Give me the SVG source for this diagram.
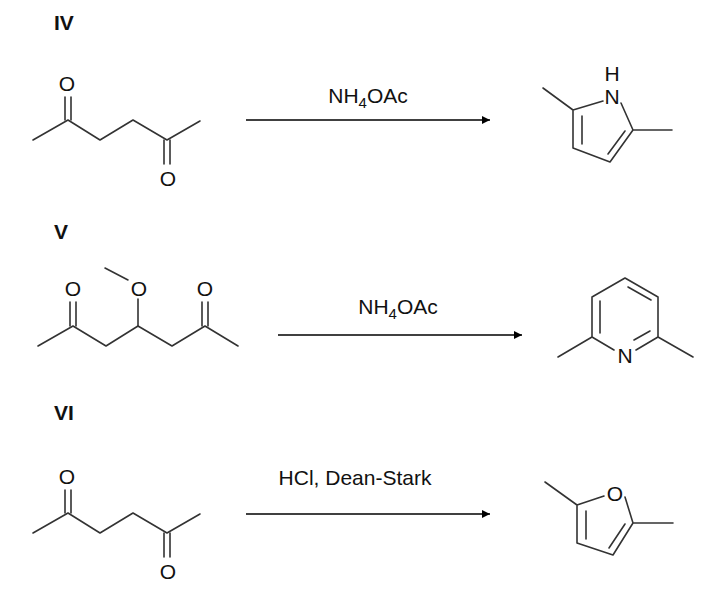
<svg xmlns="http://www.w3.org/2000/svg" width="706" height="600" viewBox="0 0 706 600">
<defs>
<style>
.b{fill:none;stroke:#333;stroke-width:1.6;stroke-linecap:round;stroke-linejoin:round}
.a{fill:none;stroke:#000;stroke-width:1.5}
.t{font-family:"Liberation Sans",Arial,sans-serif;font-size:21px;fill:#111;text-anchor:middle}
.l{font-family:"Liberation Sans",Arial,sans-serif;font-size:21px;font-weight:bold;fill:#111}
</style>
<marker id="ah" viewBox="0 0 10 10" refX="10" refY="5" markerWidth="14" markerHeight="8" markerUnits="userSpaceOnUse" orient="auto"><path d="M0,0 L10,5 L0,10 z" fill="#000"/></marker>
<g id="hexdione">
<path class="b" d="M33,140 L68,120 L100,140 L133,120 L167,140 L200,121"/>
<path class="b" d="M65,120 V97 M71,120 V97"/>
<path class="b" d="M164,140 V164 M170,140 V164"/>
<text class="t" x="67" y="91">O</text>
<text class="t" x="168" y="186">O</text>
</g>
</defs>
<rect width="706" height="600" fill="#fff"/>
<text class="l" x="54" y="30">IV</text>
<text class="l" x="54" y="239">V</text>
<text class="l" x="54" y="420">VI</text>
<g id="reactant-IV"><use href="#hexdione"/></g>
<g id="pyrrole">
<path class="b" d="M543,88 L573,110 L603,101 M621,103 L633,130 L610,162 L573,148 L573,110 M633,130 L672,130"/>
<path class="b" d="M582,116 V144 M625,131 L608,154"/>
<text class="t" x="612" y="104">N</text>
<text class="t" x="612" y="81">H</text>
</g>
<g id="reactant-V">
<path class="b" d="M38,346 L73,326 L106,346 L138,326 L172,346 L205,326 L238,346"/>
<path class="b" d="M70,326 V302 M76,326 V302 M202,326 V302 M208,326 V302 M138,326 V299 M128,280 L105,268"/>
<text class="t" x="73" y="296">O</text>
<text class="t" x="139" y="296">O</text>
<text class="t" x="205" y="296">O</text>
</g>
<g id="pyridine">
<path class="b" d="M614,350 L592,337 L592,297 L625,278 L658,297 L658,337 L636,350 M592,337 L558,357 M658,337 L693,357"/>
<path class="b" d="M600,301 V333 M628,287 L651,300 M650,331 L634,340"/>
<text class="t" x="625" y="363">N</text>
</g>
<g id="reactant-VI" transform="translate(0,393)"><use href="#hexdione"/></g>
<g id="furan">
<path class="b" d="M545,482 L577,505 L604,496 M625,497 L633,523 L613,555 L577,543 L577,505 M633,523 L673,523"/>
<path class="b" d="M586,511 V539 M625,524 L609,548"/>
<text class="t" x="615" y="501">O</text>
</g>
<g id="connectors">
<line class="a" x1="246" y1="120" x2="490" y2="120" marker-end="url(#ah)"/>
<line class="a" x1="278" y1="335" x2="522" y2="335" marker-end="url(#ah)"/>
<line class="a" x1="246" y1="514" x2="490" y2="514" marker-end="url(#ah)"/>
</g>
<text class="t" x="368" y="103">NH<tspan font-size="15" dy="5">4</tspan><tspan dy="-5">OAc</tspan></text>
<text class="t" x="398" y="314">NH<tspan font-size="15" dy="5">4</tspan><tspan dy="-5">OAc</tspan></text>
<text class="t" x="355" y="485">HCl, Dean-Stark</text>
</svg>
